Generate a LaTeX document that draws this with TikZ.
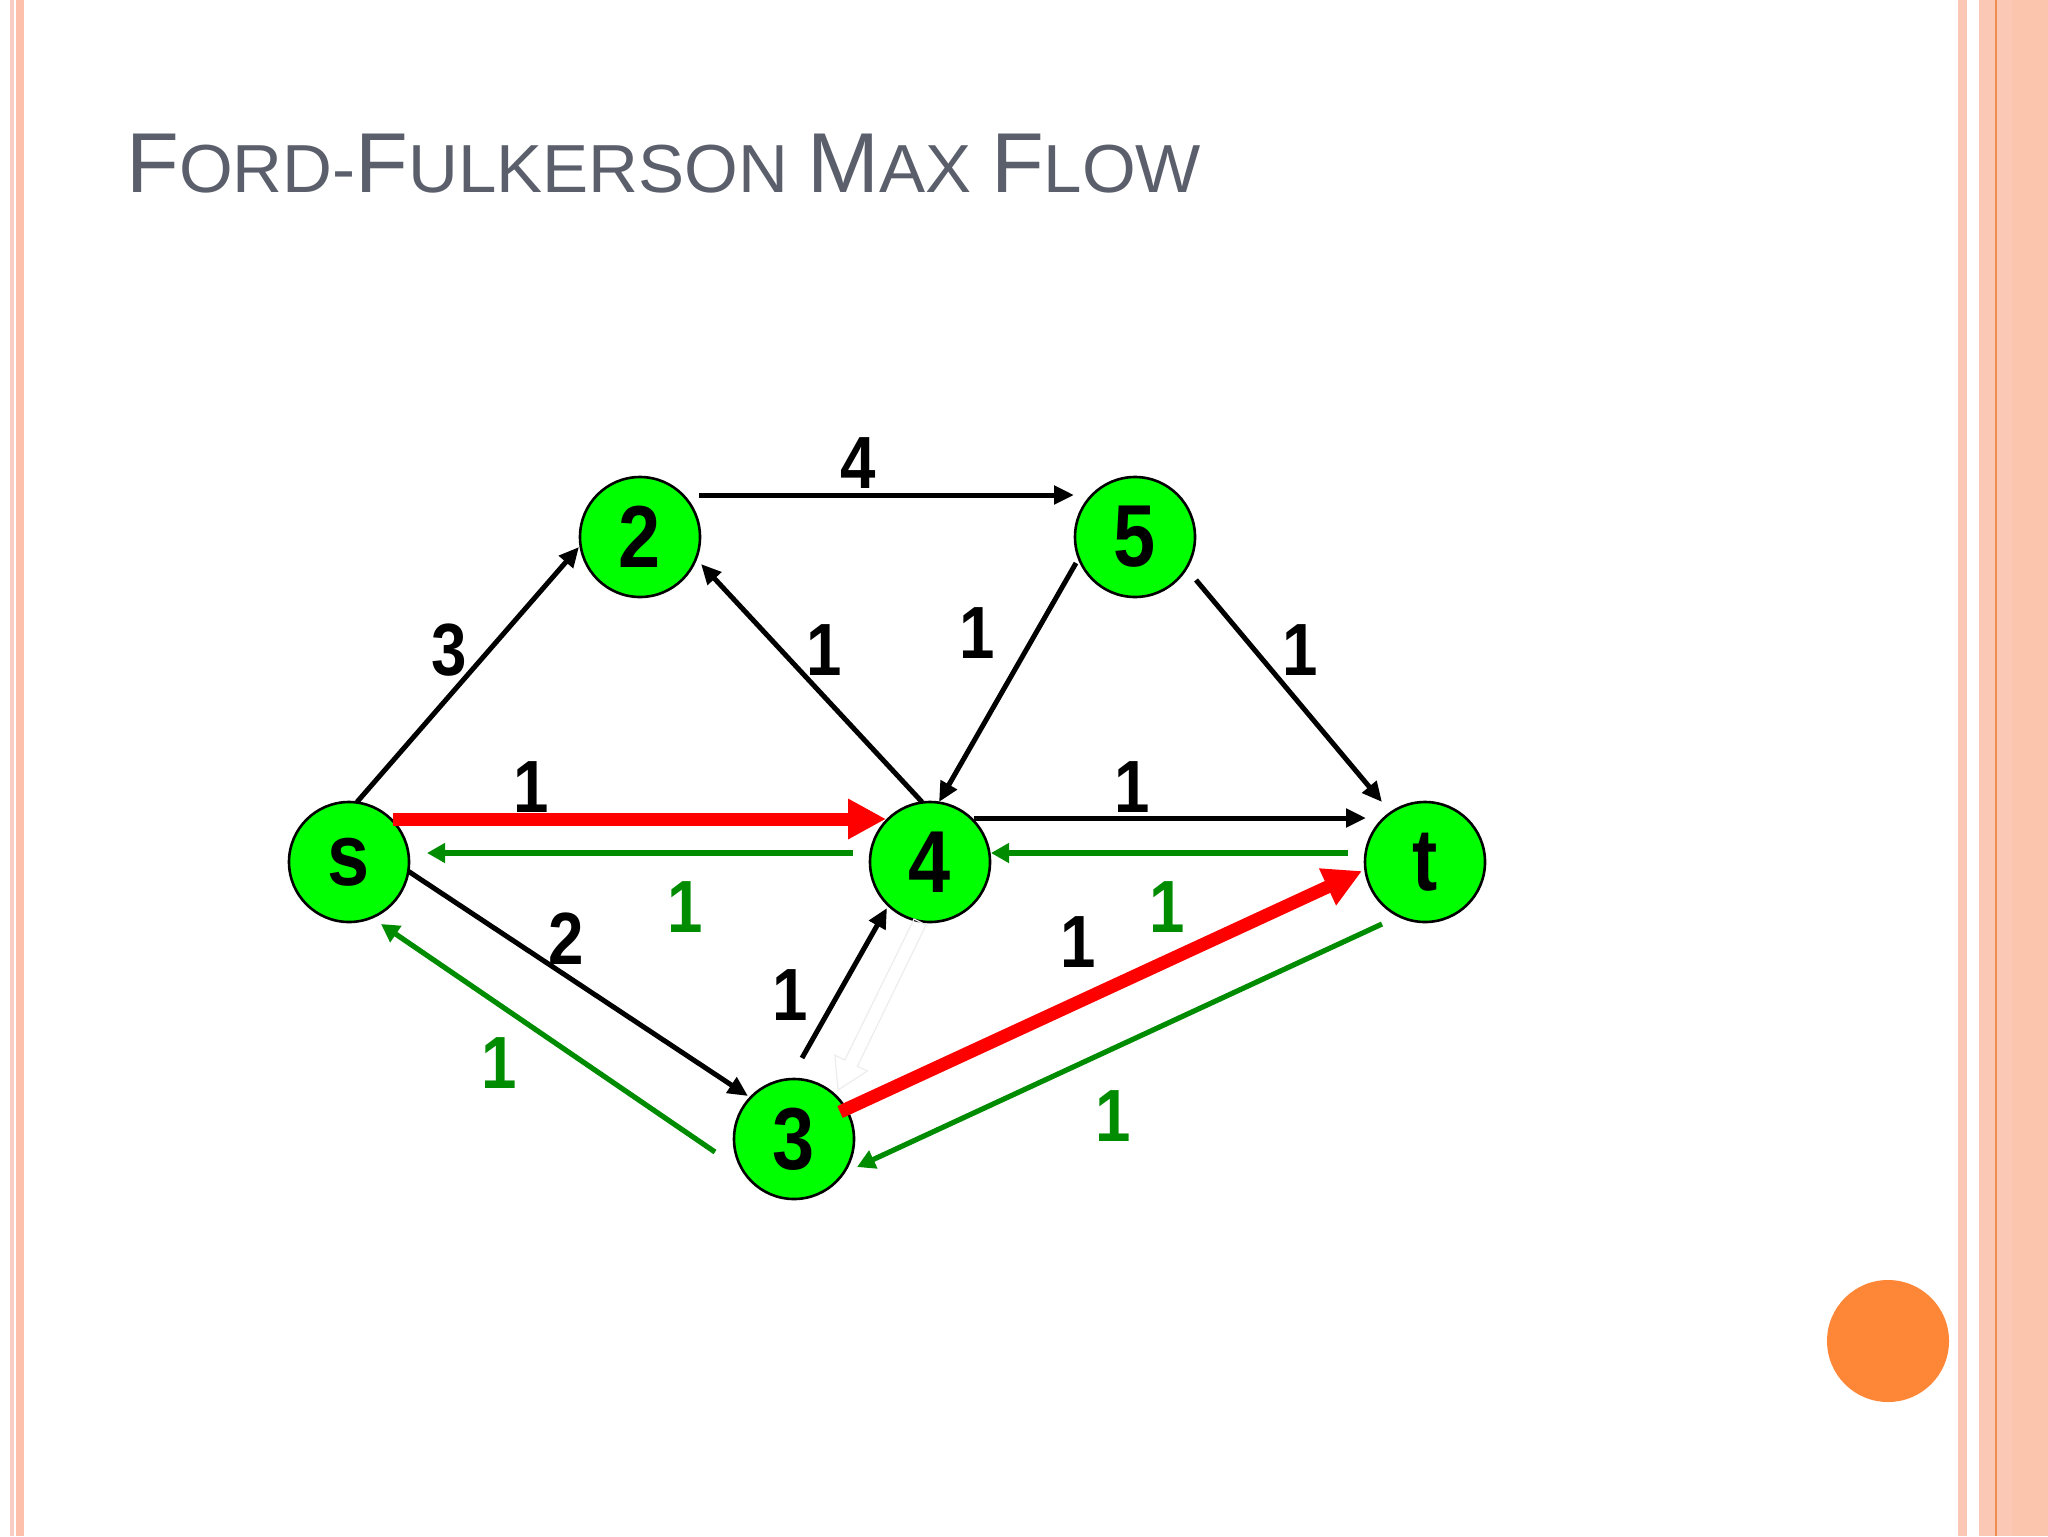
\documentclass[tikz,border=0pt]{standalone}
\usepackage{fontspec}
\setmainfont{Liberation Sans}
\usetikzlibrary{arrows.meta}
\definecolor{gnode}{RGB}{0,255,0}
\definecolor{gline}{RGB}{0,140,0}
\definecolor{titlegray}{RGB}{90,95,107}
\definecolor{salmon}{RGB}{252,200,182}
\definecolor{salmondk}{RGB}{251,196,172}
\definecolor{pinkl}{RGB}{247,205,196}
\definecolor{salmonl}{RGB}{253,192,170}
\definecolor{orangeline}{RGB}{240,140,80}
\definecolor{orangedot}{RGB}{253,134,55}
\newcommand\capA[1]{{\fontsize{42.5}{42.5}\selectfont #1}}
\newcommand\capB[1]{{\fontsize{34}{34}\selectfont #1}}
\newcommand\narrow[1]{\scalebox{0.86}[1]{#1}}
\begin{document}
\begin{tikzpicture}[x=0.5pt,y=-0.5pt,
 vert/.style={circle,draw=black,line width=1.3pt,fill=gnode,minimum size=60pt,inner sep=0pt,font=\fontsize{44}{44}\selectfont\bfseries},
 blk/.style={draw=black,line width=2.5pt,-{Triangle[length=10pt,width=9pt]}},
 grn/.style={draw=gline,line width=2.6pt,-{Triangle[length=9pt,width=9.5pt]}},
 redar/.style={draw=red,line width=6.5pt,-{Triangle[length=19pt,width=19pt]}},
 lbl/.style={font=\fontsize{37}{37}\selectfont\bfseries,inner sep=0pt},
 glbl/.style={lbl,text=gline}]
\useasboundingbox (0,0) rectangle (2048,1536);
\fill[white] (0,0) rectangle (2048,1536);
% borders
\fill[pinkl] (10,0) rectangle (14,1536);
\fill[salmonl] (16,0) rectangle (24,1536);
\fill[salmon] (1958,0) rectangle (1967,1536);
\fill[salmon] (1979,0) rectangle (2012,1536);
\fill[salmondk] (2012,0) rectangle (2048,1536);
\fill[orangeline] (1995,0) rectangle (1997,1536);
\fill[orangedot] (1888,1341) circle (61);
% title
\node[anchor=base west,text=titlegray,inner sep=0pt] (title) at (126,192)
 {\scalebox{1.016}[1]{\capA{F}\capB{ORD-}\capA{F}\capB{ULKERSON }\capA{M}\capB{AX }\capA{F}\capB{LOW}}};
% nodes
\node[vert] (s) at (349,862) {\narrow{s}};
\node[vert] (2) at (640,537) {\narrow{2}};
\node[vert] (5) at (1135,537) {\narrow{5}};
\node[vert] (4) at (930,862) {\narrow{4}};
\node[vert] (t) at (1425,862) {\narrow{t}};
\node[vert] (3) at (794,1139) {\narrow{3}};
% faint block arrow 4 -> 3
\draw[black!7,line width=0.6pt] ([shift={(-4,63)}]4.center) -- (857.4,1066.2) -- (867.3,1071.0) -- ([shift={(44,-49)}]3.center) -- (834.9,1055.2) -- (844.8,1060.0) -- ([shift={(-16,57)}]4.center) -- cycle;
% connectors
\draw[blk] ([shift={(8,-60)}]s.center) -- ([shift={(-61,10)}]2.center);
\draw[blk] ([shift={(59,-42)}]2.center) -- ([shift={(-61,-42)}]5.center);
\draw[blk] ([shift={(-8,-60)}]4.center) -- ([shift={(61,27)}]2.center);
\draw[blk] ([shift={(-59,26)}]5.center) -- ([shift={(9,-60)}]4.center);
\draw[blk] ([shift={(61,43)}]5.center) -- ([shift={(-43,-60)}]t.center);
\draw[blk] ([shift={(44,-44)}]4.center) -- ([shift={(-59,-44)}]t.center);
\draw[grn] ([shift={(-77,-9)}]t.center) -- ([shift={(61,-9)}]4.center);
\draw[redar] ([shift={(44,-43)}]s.center) -- ([shift={(-44,-43)}]4.center);
\draw[grn] ([shift={(-77,-9)}]4.center) -- ([shift={(78,-9)}]s.center);
\draw[blk] ([shift={(59,9)}]s.center) -- ([shift={(-46,-43)}]3.center);
\draw[grn] ([shift={(-79,13)}]3.center) -- ([shift={(32,62)}]s.center);
\draw[blk] ([shift={(8,-81)}]3.center) -- ([shift={(-43,46)}]4.center);
\draw[redar] ([shift={(46,-27)}]3.center) -- ([shift={(-63,9)}]t.center);
\draw[grn] ([shift={(-43,62)}]t.center) -- ([shift={(63,28)}]3.center);
% labels
\node[lbl] (ls2) at (449,650) {\narrow{3}};
\node[lbl] (l25) at (858,463) {\narrow{4}};
\node[lbl] (l42) at (824,650) {\narrow{1}};
\node[lbl] (l54) at (977,633) {\narrow{1}};
\node[lbl] (l5t) at (1300,650) {\narrow{1}};
\node[lbl] (l4t) at (1132,787) {\narrow{1}};
\node[lbl] (ls4) at (531,787) {\narrow{1}};
\node[glbl] (l4s) at (685,907) {\narrow{1}};
\node[glbl] (lt4) at (1167,907) {\narrow{1}};
\node[lbl] (ls3) at (566,939) {\narrow{2}};
\node[glbl] (l3s) at (499,1063) {\narrow{1}};
\node[lbl] (l34) at (790,995) {\narrow{1}};
\node[lbl] (l3t) at (1078,942) {\narrow{1}};
\node[glbl] (lt3) at (1113,1116) {\narrow{1}};
\end{tikzpicture}
\end{document}
